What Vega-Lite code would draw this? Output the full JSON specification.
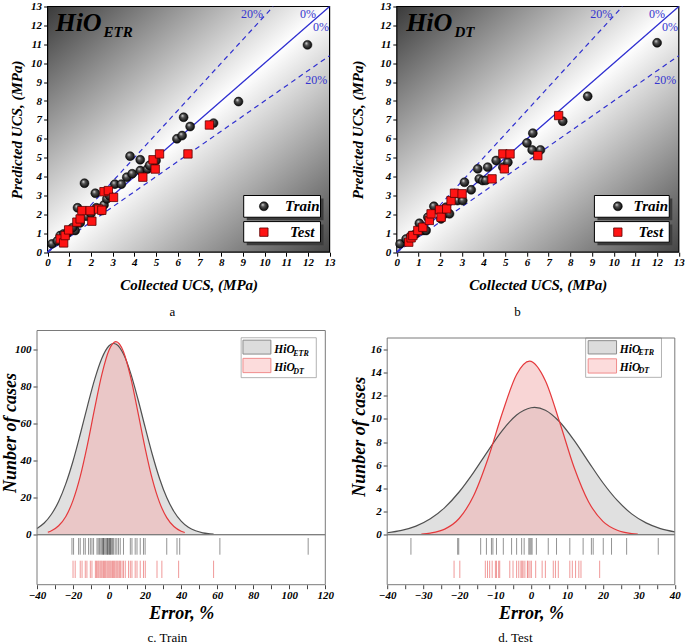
{
  "$schema": "https://vega.github.io/schema/vega-lite/v6.json",
  "background": "white",
  "padding": {"left": 1, "top": 0.5, "right": 0, "bottom": 0},
  "config": {
    "font": "Liberation Serif",
    "view": {"stroke": null},
    "axis": {
      "grid": false,
      "labelFont": "Liberation Serif",
      "labelFontWeight": "bold",
      "labelFontStyle": "italic",
      "labelFontSize": 11,
      "labelColor": "#000",
      "labelFlush": false,
      "labelOverlap": false,
      "titleFont": "Liberation Serif",
      "titleFontWeight": "bold",
      "titleFontStyle": "italic",
      "titleColor": "#000",
      "tickColor": "#000",
      "domainColor": "#000",
      "tickSize": 4
    },
    "title": {"font": "Liberation Serif", "fontSize": 13, "fontWeight": "normal", "color": "#000"}
  },
  "datasets": {
    "guides": [
      {"g": "0", "x": 0, "y": 0}, {"g": "0", "x": 13, "y": 13},
      {"g": "+20", "x": 0, "y": 0}, {"g": "+20", "x": 10.4, "y": 13},
      {"g": "-20", "x": 0, "y": 0}, {"g": "-20", "x": 13, "y": 10.4}
    ],
    "pct": [
      {"x": 9.42, "y": 12.6, "t": "20%"},
      {"x": 12.0, "y": 12.6, "t": "0%"},
      {"x": 12.6, "y": 11.9, "t": "0%"},
      {"x": 12.38, "y": 9.1, "t": "20%"}
    ],
    "tags": [
      {"model": "ETR", "part": "main", "x": 0.36, "y": 11.7, "t": "HiO"},
      {"model": "ETR", "part": "sub", "x": 2.58, "y": 11.38, "t": "ETR"},
      {"model": "DT", "part": "main", "x": 0.43, "y": 11.7, "t": "HiO"},
      {"model": "DT", "part": "sub", "x": 2.66, "y": 11.38, "t": "DT"}
    ],
    "keys": [
      {"panel": "c", "part": "main", "x": 91.7, "y": 97.7, "t": "HiO"},
      {"panel": "c", "part": "sub", "x": 102.2, "y": 96.5, "t": "ETR"},
      {"panel": "c", "part": "main", "x": 91.7, "y": 88.2, "t": "HiO"},
      {"panel": "c", "part": "sub", "x": 102.2, "y": 86.6, "t": "DT"},
      {"panel": "d", "part": "main", "x": 24.7, "y": 15.7, "t": "HiO"},
      {"panel": "d", "part": "sub", "x": 29.9, "y": 15.56, "t": "ETR"},
      {"panel": "d", "part": "main", "x": 24.7, "y": 14.17, "t": "HiO"},
      {"panel": "d", "part": "sub", "x": 29.9, "y": 13.97, "t": "DT"}
    ],
    "ucs": [
      {"model": "ETR", "set": "Train", "collected": 0.2, "predicted": 0.44},
      {"model": "ETR", "set": "Train", "collected": 0.45, "predicted": 0.6},
      {"model": "ETR", "set": "Train", "collected": 0.58, "predicted": 0.88},
      {"model": "ETR", "set": "Train", "collected": 0.74, "predicted": 0.97},
      {"model": "ETR", "set": "Train", "collected": 0.9, "predicted": 1.0},
      {"model": "ETR", "set": "Train", "collected": 1.04, "predicted": 1.15},
      {"model": "ETR", "set": "Train", "collected": 1.27, "predicted": 1.15},
      {"model": "ETR", "set": "Train", "collected": 1.15, "predicted": 1.3},
      {"model": "ETR", "set": "Train", "collected": 1.38, "predicted": 2.35},
      {"model": "ETR", "set": "Train", "collected": 1.5, "predicted": 1.55},
      {"model": "ETR", "set": "Train", "collected": 1.7, "predicted": 3.65},
      {"model": "ETR", "set": "Train", "collected": 1.8, "predicted": 1.9},
      {"model": "ETR", "set": "Train", "collected": 2.0, "predicted": 2.05},
      {"model": "ETR", "set": "Train", "collected": 2.2, "predicted": 3.12},
      {"model": "ETR", "set": "Train", "collected": 2.25, "predicted": 2.35},
      {"model": "ETR", "set": "Train", "collected": 2.5, "predicted": 2.2},
      {"model": "ETR", "set": "Train", "collected": 2.6, "predicted": 2.5},
      {"model": "ETR", "set": "Train", "collected": 2.73, "predicted": 2.82},
      {"model": "ETR", "set": "Train", "collected": 2.85, "predicted": 3.0},
      {"model": "ETR", "set": "Train", "collected": 3.1, "predicted": 3.6},
      {"model": "ETR", "set": "Train", "collected": 3.4, "predicted": 3.6},
      {"model": "ETR", "set": "Train", "collected": 3.65, "predicted": 3.97},
      {"model": "ETR", "set": "Train", "collected": 3.8, "predicted": 5.08},
      {"model": "ETR", "set": "Train", "collected": 3.9, "predicted": 4.15},
      {"model": "ETR", "set": "Train", "collected": 4.27, "predicted": 4.89},
      {"model": "ETR", "set": "Train", "collected": 4.27, "predicted": 4.32},
      {"model": "ETR", "set": "Train", "collected": 4.6, "predicted": 4.4},
      {"model": "ETR", "set": "Train", "collected": 4.7, "predicted": 4.6},
      {"model": "ETR", "set": "Train", "collected": 5.0, "predicted": 4.85},
      {"model": "ETR", "set": "Train", "collected": 5.96, "predicted": 6.0},
      {"model": "ETR", "set": "Train", "collected": 6.2, "predicted": 6.17},
      {"model": "ETR", "set": "Train", "collected": 6.27, "predicted": 7.14},
      {"model": "ETR", "set": "Train", "collected": 6.57, "predicted": 6.65},
      {"model": "ETR", "set": "Train", "collected": 7.65, "predicted": 6.83},
      {"model": "ETR", "set": "Train", "collected": 8.8, "predicted": 7.97},
      {"model": "ETR", "set": "Train", "collected": 11.98, "predicted": 10.97},
      {"model": "ETR", "set": "Test", "collected": 0.58, "predicted": 0.7},
      {"model": "ETR", "set": "Test", "collected": 0.74, "predicted": 0.49},
      {"model": "ETR", "set": "Test", "collected": 0.81, "predicted": 0.88},
      {"model": "ETR", "set": "Test", "collected": 0.97, "predicted": 1.18},
      {"model": "ETR", "set": "Test", "collected": 1.35, "predicted": 1.59},
      {"model": "ETR", "set": "Test", "collected": 1.5, "predicted": 1.76},
      {"model": "ETR", "set": "Test", "collected": 1.58, "predicted": 2.2},
      {"model": "ETR", "set": "Test", "collected": 1.96, "predicted": 2.2},
      {"model": "ETR", "set": "Test", "collected": 2.04, "predicted": 1.64},
      {"model": "ETR", "set": "Test", "collected": 2.35, "predicted": 2.28},
      {"model": "ETR", "set": "Test", "collected": 2.5, "predicted": 2.22},
      {"model": "ETR", "set": "Test", "collected": 2.6, "predicted": 3.2},
      {"model": "ETR", "set": "Test", "collected": 2.8, "predicted": 3.26},
      {"model": "ETR", "set": "Test", "collected": 3.04, "predicted": 2.9},
      {"model": "ETR", "set": "Test", "collected": 4.39, "predicted": 3.97},
      {"model": "ETR", "set": "Test", "collected": 4.86, "predicted": 4.89},
      {"model": "ETR", "set": "Test", "collected": 4.96, "predicted": 4.4},
      {"model": "ETR", "set": "Test", "collected": 5.16, "predicted": 5.2},
      {"model": "ETR", "set": "Test", "collected": 6.47, "predicted": 5.2},
      {"model": "ETR", "set": "Test", "collected": 7.46, "predicted": 6.73},
      {"model": "DT", "set": "Train", "collected": 0.15, "predicted": 0.44},
      {"model": "DT", "set": "Train", "collected": 0.43, "predicted": 0.7},
      {"model": "DT", "set": "Train", "collected": 0.66, "predicted": 0.88},
      {"model": "DT", "set": "Train", "collected": 0.85, "predicted": 0.95},
      {"model": "DT", "set": "Train", "collected": 1.04, "predicted": 1.53},
      {"model": "DT", "set": "Train", "collected": 1.2, "predicted": 1.15},
      {"model": "DT", "set": "Train", "collected": 1.35, "predicted": 1.15},
      {"model": "DT", "set": "Train", "collected": 1.43, "predicted": 1.85},
      {"model": "DT", "set": "Train", "collected": 1.71, "predicted": 2.43},
      {"model": "DT", "set": "Train", "collected": 2.04, "predicted": 1.76},
      {"model": "DT", "set": "Train", "collected": 2.2, "predicted": 2.03},
      {"model": "DT", "set": "Train", "collected": 2.27, "predicted": 2.38},
      {"model": "DT", "set": "Train", "collected": 2.43, "predicted": 2.03},
      {"model": "DT", "set": "Train", "collected": 2.8, "predicted": 2.73},
      {"model": "DT", "set": "Train", "collected": 3.04, "predicted": 2.73},
      {"model": "DT", "set": "Train", "collected": 3.12, "predicted": 3.7},
      {"model": "DT", "set": "Train", "collected": 3.43, "predicted": 3.3},
      {"model": "DT", "set": "Train", "collected": 3.73, "predicted": 4.41},
      {"model": "DT", "set": "Train", "collected": 3.8, "predicted": 3.88},
      {"model": "DT", "set": "Train", "collected": 3.96, "predicted": 3.79},
      {"model": "DT", "set": "Train", "collected": 4.1, "predicted": 3.8},
      {"model": "DT", "set": "Train", "collected": 4.19, "predicted": 4.5},
      {"model": "DT", "set": "Train", "collected": 4.58, "predicted": 4.85},
      {"model": "DT", "set": "Train", "collected": 4.89, "predicted": 4.5},
      {"model": "DT", "set": "Train", "collected": 5.12, "predicted": 4.76},
      {"model": "DT", "set": "Train", "collected": 6.0, "predicted": 5.78},
      {"model": "DT", "set": "Train", "collected": 6.27, "predicted": 6.3},
      {"model": "DT", "set": "Train", "collected": 6.24, "predicted": 5.41},
      {"model": "DT", "set": "Train", "collected": 6.62, "predicted": 5.41},
      {"model": "DT", "set": "Train", "collected": 7.65, "predicted": 6.93},
      {"model": "DT", "set": "Train", "collected": 8.8, "predicted": 8.25},
      {"model": "DT", "set": "Train", "collected": 12.0, "predicted": 11.08},
      {"model": "DT", "set": "Test", "collected": 0.55, "predicted": 0.53},
      {"model": "DT", "set": "Test", "collected": 0.66, "predicted": 0.76},
      {"model": "DT", "set": "Test", "collected": 0.74, "predicted": 0.88},
      {"model": "DT", "set": "Test", "collected": 0.97, "predicted": 1.15},
      {"model": "DT", "set": "Test", "collected": 1.2, "predicted": 1.32},
      {"model": "DT", "set": "Test", "collected": 1.5, "predicted": 1.68},
      {"model": "DT", "set": "Test", "collected": 1.58, "predicted": 2.03},
      {"model": "DT", "set": "Test", "collected": 1.97, "predicted": 2.24},
      {"model": "DT", "set": "Test", "collected": 2.04, "predicted": 1.85},
      {"model": "DT", "set": "Test", "collected": 2.3, "predicted": 2.29},
      {"model": "DT", "set": "Test", "collected": 2.5, "predicted": 2.73},
      {"model": "DT", "set": "Test", "collected": 2.66, "predicted": 3.12},
      {"model": "DT", "set": "Test", "collected": 3.01, "predicted": 3.09},
      {"model": "DT", "set": "Test", "collected": 4.39, "predicted": 3.88},
      {"model": "DT", "set": "Test", "collected": 4.89, "predicted": 5.2},
      {"model": "DT", "set": "Test", "collected": 4.96, "predicted": 4.41},
      {"model": "DT", "set": "Test", "collected": 5.22, "predicted": 5.2},
      {"model": "DT", "set": "Test", "collected": 6.5, "predicted": 5.11},
      {"model": "DT", "set": "Test", "collected": 7.46, "predicted": 7.23}
    ],
    "curves": [
      {"panel": "c", "model": "ETR", "x": -40, "y": 3.4}, {"panel": "c", "model": "ETR", "x": -36, "y": 6.3},
      {"panel": "c", "model": "ETR", "x": -32, "y": 11.0}, {"panel": "c", "model": "ETR", "x": -28, "y": 17.9},
      {"panel": "c", "model": "ETR", "x": -24, "y": 27.5}, {"panel": "c", "model": "ETR", "x": -20, "y": 39.7},
      {"panel": "c", "model": "ETR", "x": -16, "y": 54.1}, {"panel": "c", "model": "ETR", "x": -12, "y": 69.3},
      {"panel": "c", "model": "ETR", "x": -8, "y": 83.7}, {"panel": "c", "model": "ETR", "x": -4, "y": 95.1},
      {"panel": "c", "model": "ETR", "x": 0, "y": 101.8}, {"panel": "c", "model": "ETR", "x": 2.5, "y": 103},
      {"panel": "c", "model": "ETR", "x": 4, "y": 102.6}, {"panel": "c", "model": "ETR", "x": 8, "y": 97.3},
      {"panel": "c", "model": "ETR", "x": 12, "y": 86.9}, {"panel": "c", "model": "ETR", "x": 16, "y": 73.1},
      {"panel": "c", "model": "ETR", "x": 20, "y": 57.9}, {"panel": "c", "model": "ETR", "x": 24, "y": 43.2},
      {"panel": "c", "model": "ETR", "x": 28, "y": 30.3}, {"panel": "c", "model": "ETR", "x": 32, "y": 20.0},
      {"panel": "c", "model": "ETR", "x": 36, "y": 12.5}, {"panel": "c", "model": "ETR", "x": 40, "y": 7.3},
      {"panel": "c", "model": "ETR", "x": 44, "y": 4.0}, {"panel": "c", "model": "ETR", "x": 48, "y": 2.1},
      {"panel": "c", "model": "ETR", "x": 52, "y": 1.0}, {"panel": "c", "model": "ETR", "x": 56, "y": 0.5},
      {"panel": "c", "model": "ETR", "x": 58, "y": 0.3},
      {"panel": "c", "model": "DT", "x": -34, "y": 1.3}, {"panel": "c", "model": "DT", "x": -32, "y": 2.1},
      {"panel": "c", "model": "DT", "x": -28, "y": 4.8}, {"panel": "c", "model": "DT", "x": -24, "y": 9.8},
      {"panel": "c", "model": "DT", "x": -20, "y": 18.5}, {"panel": "c", "model": "DT", "x": -16, "y": 31.4},
      {"panel": "c", "model": "DT", "x": -12, "y": 48.5}, {"panel": "c", "model": "DT", "x": -8, "y": 68.0},
      {"panel": "c", "model": "DT", "x": -4, "y": 86.4}, {"panel": "c", "model": "DT", "x": 0, "y": 99.5},
      {"panel": "c", "model": "DT", "x": 3.8, "y": 104}, {"panel": "c", "model": "DT", "x": 8, "y": 98.6},
      {"panel": "c", "model": "DT", "x": 12, "y": 84.7}, {"panel": "c", "model": "DT", "x": 16, "y": 66.0},
      {"panel": "c", "model": "DT", "x": 20, "y": 46.7}, {"panel": "c", "model": "DT", "x": 24, "y": 29.9},
      {"panel": "c", "model": "DT", "x": 28, "y": 17.4}, {"panel": "c", "model": "DT", "x": 32, "y": 9.2},
      {"panel": "c", "model": "DT", "x": 36, "y": 4.4}, {"panel": "c", "model": "DT", "x": 40, "y": 1.9},
      {"panel": "c", "model": "DT", "x": 42, "y": 1.2},
      {"panel": "d", "model": "ETR", "x": -40, "y": 0.17}, {"panel": "d", "model": "ETR", "x": -36, "y": 0.37},
      {"panel": "d", "model": "ETR", "x": -32, "y": 0.74}, {"panel": "d", "model": "ETR", "x": -28, "y": 1.37},
      {"panel": "d", "model": "ETR", "x": -24, "y": 2.34}, {"panel": "d", "model": "ETR", "x": -20, "y": 3.69},
      {"panel": "d", "model": "ETR", "x": -16, "y": 5.37}, {"panel": "d", "model": "ETR", "x": -12, "y": 7.23},
      {"panel": "d", "model": "ETR", "x": -8, "y": 9.0}, {"panel": "d", "model": "ETR", "x": -4, "y": 10.34},
      {"panel": "d", "model": "ETR", "x": 0, "y": 10.97}, {"panel": "d", "model": "ETR", "x": 1, "y": 11.0},
      {"panel": "d", "model": "ETR", "x": 4, "y": 10.76}, {"panel": "d", "model": "ETR", "x": 8, "y": 9.74},
      {"panel": "d", "model": "ETR", "x": 12, "y": 8.15}, {"panel": "d", "model": "ETR", "x": 16, "y": 6.3},
      {"panel": "d", "model": "ETR", "x": 20, "y": 4.49}, {"panel": "d", "model": "ETR", "x": 24, "y": 2.96},
      {"panel": "d", "model": "ETR", "x": 28, "y": 1.8}, {"panel": "d", "model": "ETR", "x": 32, "y": 1.02},
      {"panel": "d", "model": "ETR", "x": 36, "y": 0.53}, {"panel": "d", "model": "ETR", "x": 40, "y": 0.25},
      {"panel": "d", "model": "DT", "x": -30.5, "y": 0.06}, {"panel": "d", "model": "DT", "x": -28, "y": 0.14},
      {"panel": "d", "model": "DT", "x": -24, "y": 0.48}, {"panel": "d", "model": "DT", "x": -20, "y": 1.4},
      {"panel": "d", "model": "DT", "x": -16, "y": 3.34}, {"panel": "d", "model": "DT", "x": -12, "y": 6.54},
      {"panel": "d", "model": "DT", "x": -8, "y": 10.5}, {"panel": "d", "model": "DT", "x": -4, "y": 13.85},
      {"panel": "d", "model": "DT", "x": -0.4, "y": 15.0}, {"panel": "d", "model": "DT", "x": 4, "y": 13.31},
      {"panel": "d", "model": "DT", "x": 8, "y": 9.7}, {"panel": "d", "model": "DT", "x": 12, "y": 5.81},
      {"panel": "d", "model": "DT", "x": 16, "y": 2.85}, {"panel": "d", "model": "DT", "x": 20, "y": 1.15},
      {"panel": "d", "model": "DT", "x": 24, "y": 0.38}, {"panel": "d", "model": "DT", "x": 28, "y": 0.1},
      {"panel": "d", "model": "DT", "x": 29.7, "y": 0.06}
    ],
    "rug": [
      {"panel": "c", "model": "ETR", "err": -20.6}, {"panel": "c", "model": "ETR", "err": -19.7}, {"panel": "c", "model": "ETR", "err": -16.9},
      {"panel": "c", "model": "ETR", "err": -16}, {"panel": "c", "model": "ETR", "err": -14.1}, {"panel": "c", "model": "ETR", "err": -13.2},
      {"panel": "c", "model": "ETR", "err": -11.4}, {"panel": "c", "model": "ETR", "err": -10.4}, {"panel": "c", "model": "ETR", "err": -9.5},
      {"panel": "c", "model": "ETR", "err": -8.6}, {"panel": "c", "model": "ETR", "err": -6.7}, {"panel": "c", "model": "ETR", "err": -6},
      {"panel": "c", "model": "ETR", "err": -5.3}, {"panel": "c", "model": "ETR", "err": -4.6}, {"panel": "c", "model": "ETR", "err": -4},
      {"panel": "c", "model": "ETR", "err": -3.5}, {"panel": "c", "model": "ETR", "err": -3.2}, {"panel": "c", "model": "ETR", "err": -3},
      {"panel": "c", "model": "ETR", "err": -2.4}, {"panel": "c", "model": "ETR", "err": -1.8}, {"panel": "c", "model": "ETR", "err": -1.2},
      {"panel": "c", "model": "ETR", "err": -1}, {"panel": "c", "model": "ETR", "err": -0.7}, {"panel": "c", "model": "ETR", "err": -0.2},
      {"panel": "c", "model": "ETR", "err": 0.3}, {"panel": "c", "model": "ETR", "err": 0.5}, {"panel": "c", "model": "ETR", "err": 0.8},
      {"panel": "c", "model": "ETR", "err": 1.3}, {"panel": "c", "model": "ETR", "err": 1.9}, {"panel": "c", "model": "ETR", "err": 2.5},
      {"panel": "c", "model": "ETR", "err": 3.4}, {"panel": "c", "model": "ETR", "err": 4.3}, {"panel": "c", "model": "ETR", "err": 5.2},
      {"panel": "c", "model": "ETR", "err": 6.2}, {"panel": "c", "model": "ETR", "err": 8}, {"panel": "c", "model": "ETR", "err": 11.8},
      {"panel": "c", "model": "ETR", "err": 12.7}, {"panel": "c", "model": "ETR", "err": 14.5}, {"panel": "c", "model": "ETR", "err": 15.5},
      {"panel": "c", "model": "ETR", "err": 17.3}, {"panel": "c", "model": "ETR", "err": 19.1}, {"panel": "c", "model": "ETR", "err": 20},
      {"panel": "c", "model": "ETR", "err": 32}, {"panel": "c", "model": "ETR", "err": 37.7}, {"panel": "c", "model": "ETR", "err": 39.2},
      {"panel": "c", "model": "ETR", "err": 61.5}, {"panel": "c", "model": "ETR", "err": 110.5},
      {"panel": "c", "model": "DT", "err": -20}, {"panel": "c", "model": "DT", "err": -18.8}, {"panel": "c", "model": "DT", "err": -16},
      {"panel": "c", "model": "DT", "err": -15}, {"panel": "c", "model": "DT", "err": -13.2}, {"panel": "c", "model": "DT", "err": -12.3},
      {"panel": "c", "model": "DT", "err": -10.4}, {"panel": "c", "model": "DT", "err": -9.5}, {"panel": "c", "model": "DT", "err": -7.6},
      {"panel": "c", "model": "DT", "err": -7}, {"panel": "c", "model": "DT", "err": -6.3}, {"panel": "c", "model": "DT", "err": -5.7},
      {"panel": "c", "model": "DT", "err": -5}, {"panel": "c", "model": "DT", "err": -4.4}, {"panel": "c", "model": "DT", "err": -3.8},
      {"panel": "c", "model": "DT", "err": -3.1}, {"panel": "c", "model": "DT", "err": -2.5}, {"panel": "c", "model": "DT", "err": -1.9},
      {"panel": "c", "model": "DT", "err": -1.2}, {"panel": "c", "model": "DT", "err": -0.6}, {"panel": "c", "model": "DT", "err": 0},
      {"panel": "c", "model": "DT", "err": 0.6}, {"panel": "c", "model": "DT", "err": 1.2}, {"panel": "c", "model": "DT", "err": 1.9},
      {"panel": "c", "model": "DT", "err": 2.5}, {"panel": "c", "model": "DT", "err": 3.1}, {"panel": "c", "model": "DT", "err": 3.8},
      {"panel": "c", "model": "DT", "err": 4.4}, {"panel": "c", "model": "DT", "err": 5}, {"panel": "c", "model": "DT", "err": 5.7},
      {"panel": "c", "model": "DT", "err": 6.3}, {"panel": "c", "model": "DT", "err": 7.2}, {"panel": "c", "model": "DT", "err": 8},
      {"panel": "c", "model": "DT", "err": 9}, {"panel": "c", "model": "DT", "err": 10.8}, {"panel": "c", "model": "DT", "err": 11.8},
      {"panel": "c", "model": "DT", "err": 12.7}, {"panel": "c", "model": "DT", "err": 14.5}, {"panel": "c", "model": "DT", "err": 15.5},
      {"panel": "c", "model": "DT", "err": 17.3}, {"panel": "c", "model": "DT", "err": 19.1}, {"panel": "c", "model": "DT", "err": 20.1},
      {"panel": "c", "model": "DT", "err": 26.6}, {"panel": "c", "model": "DT", "err": 29.3}, {"panel": "c", "model": "DT", "err": 38.6},
      {"panel": "c", "model": "DT", "err": 58},
      {"panel": "d", "model": "ETR", "err": -33.4}, {"panel": "d", "model": "ETR", "err": -20.4}, {"panel": "d", "model": "ETR", "err": -20.1},
      {"panel": "d", "model": "ETR", "err": -14}, {"panel": "d", "model": "ETR", "err": -12.4}, {"panel": "d", "model": "ETR", "err": -11},
      {"panel": "d", "model": "ETR", "err": -10.6}, {"panel": "d", "model": "ETR", "err": -9.6}, {"panel": "d", "model": "ETR", "err": -7.7},
      {"panel": "d", "model": "ETR", "err": -5.4}, {"panel": "d", "model": "ETR", "err": -4}, {"panel": "d", "model": "ETR", "err": -2.6},
      {"panel": "d", "model": "ETR", "err": -1.9}, {"panel": "d", "model": "ETR", "err": -0.6}, {"panel": "d", "model": "ETR", "err": -0.3},
      {"panel": "d", "model": "ETR", "err": 0}, {"panel": "d", "model": "ETR", "err": 0.3}, {"panel": "d", "model": "ETR", "err": 1.5},
      {"panel": "d", "model": "ETR", "err": 4.8}, {"panel": "d", "model": "ETR", "err": 7.1}, {"panel": "d", "model": "ETR", "err": 10.8},
      {"panel": "d", "model": "ETR", "err": 14.5}, {"panel": "d", "model": "ETR", "err": 16.8}, {"panel": "d", "model": "ETR", "err": 17.3},
      {"panel": "d", "model": "ETR", "err": 20.1}, {"panel": "d", "model": "ETR", "err": 22.4}, {"panel": "d", "model": "ETR", "err": 26.6},
      {"panel": "d", "model": "ETR", "err": 35.4},
      {"panel": "d", "model": "DT", "err": -21.4}, {"panel": "d", "model": "DT", "err": -19.8}, {"panel": "d", "model": "DT", "err": -12.7},
      {"panel": "d", "model": "DT", "err": -12.1}, {"panel": "d", "model": "DT", "err": -11.5}, {"panel": "d", "model": "DT", "err": -10.8},
      {"panel": "d", "model": "DT", "err": -9.9}, {"panel": "d", "model": "DT", "err": -9.6}, {"panel": "d", "model": "DT", "err": -9},
      {"panel": "d", "model": "DT", "err": -8.7}, {"panel": "d", "model": "DT", "err": -5.9}, {"panel": "d", "model": "DT", "err": -5},
      {"panel": "d", "model": "DT", "err": -4}, {"panel": "d", "model": "DT", "err": -3.4}, {"panel": "d", "model": "DT", "err": -2.8},
      {"panel": "d", "model": "DT", "err": -2.5}, {"panel": "d", "model": "DT", "err": -2.2}, {"panel": "d", "model": "DT", "err": -1.7},
      {"panel": "d", "model": "DT", "err": -1}, {"panel": "d", "model": "DT", "err": -0.8}, {"panel": "d", "model": "DT", "err": -0.3},
      {"panel": "d", "model": "DT", "err": 0.1}, {"panel": "d", "model": "DT", "err": 1.3}, {"panel": "d", "model": "DT", "err": 3.1},
      {"panel": "d", "model": "DT", "err": 4}, {"panel": "d", "model": "DT", "err": 6.2}, {"panel": "d", "model": "DT", "err": 6.8},
      {"panel": "d", "model": "DT", "err": 7.6}, {"panel": "d", "model": "DT", "err": 10.8}, {"panel": "d", "model": "DT", "err": 11.5},
      {"panel": "d", "model": "DT", "err": 12.4}, {"panel": "d", "model": "DT", "err": 13.3}, {"panel": "d", "model": "DT", "err": 13.9},
      {"panel": "d", "model": "DT", "err": 19.1}
    ]
  },
  "columns": 2,
  "align": {"row": "each", "column": "none"},
  "spacing": {"row": 10, "column": 14.2},
  "concat": [
    {
      "width": 292.6, "height": 245.7,
      "title": {"text": "a", "orient": "bottom", "anchor": "middle", "frame": "bounds", "offset": 14},
      "layer": [
        {
          "data": {"values": [{}]},
          "mark": {"type": "rect", "stroke": "#000", "strokeWidth": 1.2, "fill": {"gradient": "linear", "x1": 0, "y1": 0, "x2": 1, "y2": 1, "stops": [{"offset": 0, "color": "#3a3a3a"}, {"offset": 0.5, "color": "#ffffff"}, {"offset": 1, "color": "#454545"}]}},
          "encoding": {
            "x": {"datum": 0, "type": "quantitative", "scale": {"domain": [0, 13], "nice": false, "range": [10.6, 292.6]}, "axis": {"values": [0,1,2,3,4,5,6,7,8,9,10,11,12,13], "labelOverlap": false, "title": "Collected UCS, (MPa)", "titleFontSize": 15, "titlePadding": 10, "labelPadding": 0, "domain": false}},
            "x2": {"datum": 13},
            "y": {"datum": 0, "type": "quantitative", "scale": {"domain": [0, 13], "nice": false}, "axis": {"values": [0,1,2,3,4,5,6,7,8,9,10,11,12,13], "labelOverlap": false, "title": "Predicted UCS, (MPa)", "titleFontSize": 15, "titlePadding": 5.8, "labelPadding": 2, "offset": -10.6, "domain": false}},
            "y2": {"datum": 13}
          }
        },
        {
          "data": {"name": "guides"},
          "transform": [{"filter": "datum.g === '0'"}],
          "mark": {"type": "line", "color": "#2f2fd0", "strokeWidth": 1.3},
          "encoding": {
            "x": {"field": "x", "type": "quantitative", "axis": {"values": [0,1,2,3,4,5,6,7,8,9,10,11,12,13], "labelOverlap": false, "title": "Collected UCS, (MPa)", "titleFontSize": 15, "titlePadding": 10, "labelPadding": 0, "domain": false}},
            "y": {"field": "y", "type": "quantitative", "axis": {"values": [0,1,2,3,4,5,6,7,8,9,10,11,12,13], "labelOverlap": false, "title": "Predicted UCS, (MPa)", "titleFontSize": 15, "titlePadding": 5.8, "labelPadding": 2, "offset": -10.6, "domain": false}}
          }
        },
        {
          "data": {"name": "guides"},
          "transform": [{"filter": "datum.g !== '0'"}],
          "mark": {"type": "line", "color": "#2f2fd0", "strokeWidth": 1.2, "strokeDash": [5, 4]},
          "encoding": {
            "x": {"field": "x", "type": "quantitative", "axis": {"values": [0,1,2,3,4,5,6,7,8,9,10,11,12,13], "labelOverlap": false, "title": "Collected UCS, (MPa)", "titleFontSize": 15, "titlePadding": 10, "labelPadding": 0, "domain": false}},
            "y": {"field": "y", "type": "quantitative", "axis": {"values": [0,1,2,3,4,5,6,7,8,9,10,11,12,13], "labelOverlap": false, "title": "Predicted UCS, (MPa)", "titleFontSize": 15, "titlePadding": 5.8, "labelPadding": 2, "offset": -10.6, "domain": false}},
            "detail": {"field": "g"}
          }
        },
        {
          "data": {"name": "pct"},
          "mark": {"type": "text", "font": "Liberation Serif", "fontSize": 12, "color": "#3535d0"},
          "encoding": {
            "x": {"field": "x", "type": "quantitative", "axis": {"values": [0,1,2,3,4,5,6,7,8,9,10,11,12,13], "labelOverlap": false, "title": "Collected UCS, (MPa)", "titleFontSize": 15, "titlePadding": 10, "labelPadding": 0, "domain": false}},
            "y": {"field": "y", "type": "quantitative", "axis": {"values": [0,1,2,3,4,5,6,7,8,9,10,11,12,13], "labelOverlap": false, "title": "Predicted UCS, (MPa)", "titleFontSize": 15, "titlePadding": 5.8, "labelPadding": 2, "offset": -10.6, "domain": false}},
            "text": {"field": "t"}
          }
        },
        {
          "data": {"name": "ucs"},
          "transform": [{"filter": "datum.model === 'ETR' && datum.set === 'Train'"}],
          "mark": {"type": "point", "shape": "circle", "filled": true, "size": 80, "opacity": 1, "stroke": "#000", "strokeWidth": 0.5, "fill": {"gradient": "radial", "x1": 0.35, "y1": 0.3, "r1": 0, "x2": 0.5, "y2": 0.5, "r2": 0.55, "stops": [{"offset": 0, "color": "#f0f0f0"}, {"offset": 0.35, "color": "#555555"}, {"offset": 1, "color": "#000000"}]}},
          "encoding": {
            "x": {"field": "collected", "type": "quantitative", "axis": {"values": [0,1,2,3,4,5,6,7,8,9,10,11,12,13], "labelOverlap": false, "title": "Collected UCS, (MPa)", "titleFontSize": 15, "titlePadding": 10, "labelPadding": 0, "domain": false}},
            "y": {"field": "predicted", "type": "quantitative", "axis": {"values": [0,1,2,3,4,5,6,7,8,9,10,11,12,13], "labelOverlap": false, "title": "Predicted UCS, (MPa)", "titleFontSize": 15, "titlePadding": 5.8, "labelPadding": 2, "offset": -10.6, "domain": false}}
          }
        },
        {
          "data": {"name": "ucs"},
          "transform": [{"filter": "datum.model === 'ETR' && datum.set === 'Test'"}],
          "mark": {"type": "point", "shape": "square", "filled": true, "size": 70, "opacity": 1, "fill": "#ff1414", "stroke": "#5a0000", "strokeWidth": 0.8},
          "encoding": {
            "x": {"field": "collected", "type": "quantitative", "axis": {"values": [0,1,2,3,4,5,6,7,8,9,10,11,12,13], "labelOverlap": false, "title": "Collected UCS, (MPa)", "titleFontSize": 15, "titlePadding": 10, "labelPadding": 0, "domain": false}},
            "y": {"field": "predicted", "type": "quantitative", "axis": {"values": [0,1,2,3,4,5,6,7,8,9,10,11,12,13], "labelOverlap": false, "title": "Predicted UCS, (MPa)", "titleFontSize": 15, "titlePadding": 5.8, "labelPadding": 2, "offset": -10.6, "domain": false}}
          }
        },
        {
          "data": {"name": "tags"},
          "transform": [{"filter": "datum.model === 'ETR' && datum.part === 'main'"}],
          "mark": {"type": "text", "font": "Liberation Serif", "fontSize": 26, "fontWeight": "bold", "fontStyle": "italic", "align": "left", "baseline": "alphabetic", "color": "#000"},
          "encoding": {
            "x": {"field": "x", "type": "quantitative", "axis": {"values": [0,1,2,3,4,5,6,7,8,9,10,11,12,13], "labelOverlap": false, "title": "Collected UCS, (MPa)", "titleFontSize": 15, "titlePadding": 10, "labelPadding": 0, "domain": false}},
            "y": {"field": "y", "type": "quantitative", "axis": {"values": [0,1,2,3,4,5,6,7,8,9,10,11,12,13], "labelOverlap": false, "title": "Predicted UCS, (MPa)", "titleFontSize": 15, "titlePadding": 5.8, "labelPadding": 2, "offset": -10.6, "domain": false}},
            "text": {"field": "t"}
          }
        },
        {
          "data": {"name": "tags"},
          "transform": [{"filter": "datum.model === 'ETR' && datum.part === 'sub'"}],
          "mark": {"type": "text", "font": "Liberation Serif", "fontSize": 15, "fontWeight": "bold", "fontStyle": "italic", "align": "left", "baseline": "alphabetic", "color": "#000"},
          "encoding": {
            "x": {"field": "x", "type": "quantitative", "axis": {"values": [0,1,2,3,4,5,6,7,8,9,10,11,12,13], "labelOverlap": false, "title": "Collected UCS, (MPa)", "titleFontSize": 15, "titlePadding": 10, "labelPadding": 0, "domain": false}},
            "y": {"field": "y", "type": "quantitative", "axis": {"values": [0,1,2,3,4,5,6,7,8,9,10,11,12,13], "labelOverlap": false, "title": "Predicted UCS, (MPa)", "titleFontSize": 15, "titlePadding": 5.8, "labelPadding": 2, "offset": -10.6, "domain": false}},
            "text": {"field": "t"}
          }
        },
        {
          "data": {"values": [{}]},
          "mark": {"type": "rect", "color": "#3c3c3c"},
          "encoding": {
            "x": {"datum": 9.18, "axis": {"values": [0,1,2,3,4,5,6,7,8,9,10,11,12,13], "labelOverlap": false, "title": "Collected UCS, (MPa)", "titleFontSize": 15, "titlePadding": 10, "labelPadding": 0, "domain": false}}, "x2": {"datum": 12.72},
            "y": {"datum": 1.69, "axis": {"values": [0,1,2,3,4,5,6,7,8,9,10,11,12,13], "labelOverlap": false, "title": "Predicted UCS, (MPa)", "titleFontSize": 15, "titlePadding": 5.8, "labelPadding": 2, "offset": -10.6, "domain": false}}, "y2": {"datum": 2.84}
          }
        },
        {
          "data": {"values": [{}]},
          "mark": {"type": "rect", "color": "#3c3c3c"},
          "encoding": {
            "x": {"datum": 9.18, "axis": {"values": [0,1,2,3,4,5,6,7,8,9,10,11,12,13], "labelOverlap": false, "title": "Collected UCS, (MPa)", "titleFontSize": 15, "titlePadding": 10, "labelPadding": 0, "domain": false}}, "x2": {"datum": 12.72},
            "y": {"datum": 0.37, "axis": {"values": [0,1,2,3,4,5,6,7,8,9,10,11,12,13], "labelOverlap": false, "title": "Predicted UCS, (MPa)", "titleFontSize": 15, "titlePadding": 5.8, "labelPadding": 2, "offset": -10.6, "domain": false}}, "y2": {"datum": 1.46}
          }
        },
        {
          "data": {"values": [{}]},
          "mark": {"type": "rect", "fill": "#ffffff", "stroke": "#000", "strokeWidth": 1},
          "encoding": {
            "x": {"datum": 9.04, "axis": {"values": [0,1,2,3,4,5,6,7,8,9,10,11,12,13], "labelOverlap": false, "title": "Collected UCS, (MPa)", "titleFontSize": 15, "titlePadding": 10, "labelPadding": 0, "domain": false}}, "x2": {"datum": 12.58},
            "y": {"datum": 1.85, "axis": {"values": [0,1,2,3,4,5,6,7,8,9,10,11,12,13], "labelOverlap": false, "title": "Predicted UCS, (MPa)", "titleFontSize": 15, "titlePadding": 5.8, "labelPadding": 2, "offset": -10.6, "domain": false}}, "y2": {"datum": 3.0}
          }
        },
        {
          "data": {"values": [{}]},
          "mark": {"type": "rect", "fill": "#ffffff", "stroke": "#000", "strokeWidth": 1},
          "encoding": {
            "x": {"datum": 9.04, "axis": {"values": [0,1,2,3,4,5,6,7,8,9,10,11,12,13], "labelOverlap": false, "title": "Collected UCS, (MPa)", "titleFontSize": 15, "titlePadding": 10, "labelPadding": 0, "domain": false}}, "x2": {"datum": 12.58},
            "y": {"datum": 0.53, "axis": {"values": [0,1,2,3,4,5,6,7,8,9,10,11,12,13], "labelOverlap": false, "title": "Predicted UCS, (MPa)", "titleFontSize": 15, "titlePadding": 5.8, "labelPadding": 2, "offset": -10.6, "domain": false}}, "y2": {"datum": 1.62}
          }
        },
        {
          "data": {"values": [{}]},
          "mark": {"type": "point", "shape": "circle", "filled": true, "size": 80, "opacity": 1, "stroke": "#000", "strokeWidth": 0.5, "fill": {"gradient": "radial", "x1": 0.35, "y1": 0.3, "r1": 0, "x2": 0.5, "y2": 0.5, "r2": 0.55, "stops": [{"offset": 0, "color": "#f0f0f0"}, {"offset": 0.35, "color": "#555555"}, {"offset": 1, "color": "#000000"}]}},
          "encoding": {
            "x": {"datum": 9.97, "axis": {"values": [0,1,2,3,4,5,6,7,8,9,10,11,12,13], "labelOverlap": false, "title": "Collected UCS, (MPa)", "titleFontSize": 15, "titlePadding": 10, "labelPadding": 0, "domain": false}},
            "y": {"datum": 2.43, "axis": {"values": [0,1,2,3,4,5,6,7,8,9,10,11,12,13], "labelOverlap": false, "title": "Predicted UCS, (MPa)", "titleFontSize": 15, "titlePadding": 5.8, "labelPadding": 2, "offset": -10.6, "domain": false}}
          }
        },
        {
          "data": {"values": [{}]},
          "mark": {"type": "point", "shape": "square", "filled": true, "size": 70, "opacity": 1, "fill": "#ff1414", "stroke": "#5a0000", "strokeWidth": 0.8},
          "encoding": {
            "x": {"datum": 9.97, "axis": {"values": [0,1,2,3,4,5,6,7,8,9,10,11,12,13], "labelOverlap": false, "title": "Collected UCS, (MPa)", "titleFontSize": 15, "titlePadding": 10, "labelPadding": 0, "domain": false}},
            "y": {"datum": 1.06, "axis": {"values": [0,1,2,3,4,5,6,7,8,9,10,11,12,13], "labelOverlap": false, "title": "Predicted UCS, (MPa)", "titleFontSize": 15, "titlePadding": 5.8, "labelPadding": 2, "offset": -10.6, "domain": false}}
          }
        },
        {
          "data": {"values": [{}]},
          "mark": {"type": "text", "text": "Train", "font": "Liberation Serif", "fontSize": 15, "fontWeight": "bold", "fontStyle": "italic", "align": "center", "baseline": "middle", "color": "#000"},
          "encoding": {
            "x": {"datum": 11.74, "axis": {"values": [0,1,2,3,4,5,6,7,8,9,10,11,12,13], "labelOverlap": false, "title": "Collected UCS, (MPa)", "titleFontSize": 15, "titlePadding": 10, "labelPadding": 0, "domain": false}},
            "y": {"datum": 2.43, "axis": {"values": [0,1,2,3,4,5,6,7,8,9,10,11,12,13], "labelOverlap": false, "title": "Predicted UCS, (MPa)", "titleFontSize": 15, "titlePadding": 5.8, "labelPadding": 2, "offset": -10.6, "domain": false}}
          }
        },
        {
          "data": {"values": [{}]},
          "mark": {"type": "text", "text": "Test", "font": "Liberation Serif", "fontSize": 15, "fontWeight": "bold", "fontStyle": "italic", "align": "center", "baseline": "middle", "color": "#000"},
          "encoding": {
            "x": {"datum": 11.74, "axis": {"values": [0,1,2,3,4,5,6,7,8,9,10,11,12,13], "labelOverlap": false, "title": "Collected UCS, (MPa)", "titleFontSize": 15, "titlePadding": 10, "labelPadding": 0, "domain": false}},
            "y": {"datum": 1.06, "axis": {"values": [0,1,2,3,4,5,6,7,8,9,10,11,12,13], "labelOverlap": false, "title": "Predicted UCS, (MPa)", "titleFontSize": 15, "titlePadding": 5.8, "labelPadding": 2, "offset": -10.6, "domain": false}}
          }
        }
      ]
    },
    {
      "width": 293.6, "height": 245.7,
      "title": {"text": "b", "orient": "bottom", "anchor": "middle", "frame": "bounds", "offset": 14},
      "layer": [
        {
          "data": {"values": [{}]},
          "mark": {"type": "rect", "stroke": "#000", "strokeWidth": 1.2, "fill": {"gradient": "linear", "x1": 0, "y1": 0, "x2": 1, "y2": 1, "stops": [{"offset": 0, "color": "#3a3a3a"}, {"offset": 0.5, "color": "#ffffff"}, {"offset": 1, "color": "#454545"}]}},
          "encoding": {
            "x": {"datum": 0, "type": "quantitative", "scale": {"domain": [0, 13], "nice": false, "range": [11.6, 293.6]}, "axis": {"values": [0,1,2,3,4,5,6,7,8,9,10,11,12,13], "labelOverlap": false, "title": "Collected UCS, (MPa)", "titleFontSize": 15, "titlePadding": 10, "labelPadding": 0, "domain": false}},
            "x2": {"datum": 13},
            "y": {"datum": 0, "type": "quantitative", "scale": {"domain": [0, 13], "nice": false}, "axis": {"values": [0,1,2,3,4,5,6,7,8,9,10,11,12,13], "labelOverlap": false, "title": "Predicted UCS, (MPa)", "titleFontSize": 15, "titlePadding": 14.1, "labelPadding": 2, "offset": -11.6, "domain": false}},
            "y2": {"datum": 13}
          }
        },
        {
          "data": {"name": "guides"},
          "transform": [{"filter": "datum.g === '0'"}],
          "mark": {"type": "line", "color": "#2f2fd0", "strokeWidth": 1.3},
          "encoding": {
            "x": {"field": "x", "type": "quantitative", "axis": {"values": [0,1,2,3,4,5,6,7,8,9,10,11,12,13], "labelOverlap": false, "title": "Collected UCS, (MPa)", "titleFontSize": 15, "titlePadding": 10, "labelPadding": 0, "domain": false}},
            "y": {"field": "y", "type": "quantitative", "axis": {"values": [0,1,2,3,4,5,6,7,8,9,10,11,12,13], "labelOverlap": false, "title": "Predicted UCS, (MPa)", "titleFontSize": 15, "titlePadding": 14.1, "labelPadding": 2, "offset": -11.6, "domain": false}}
          }
        },
        {
          "data": {"name": "guides"},
          "transform": [{"filter": "datum.g !== '0'"}],
          "mark": {"type": "line", "color": "#2f2fd0", "strokeWidth": 1.2, "strokeDash": [5, 4]},
          "encoding": {
            "x": {"field": "x", "type": "quantitative", "axis": {"values": [0,1,2,3,4,5,6,7,8,9,10,11,12,13], "labelOverlap": false, "title": "Collected UCS, (MPa)", "titleFontSize": 15, "titlePadding": 10, "labelPadding": 0, "domain": false}},
            "y": {"field": "y", "type": "quantitative", "axis": {"values": [0,1,2,3,4,5,6,7,8,9,10,11,12,13], "labelOverlap": false, "title": "Predicted UCS, (MPa)", "titleFontSize": 15, "titlePadding": 14.1, "labelPadding": 2, "offset": -11.6, "domain": false}},
            "detail": {"field": "g"}
          }
        },
        {
          "data": {"name": "pct"},
          "mark": {"type": "text", "font": "Liberation Serif", "fontSize": 12, "color": "#3535d0"},
          "encoding": {
            "x": {"field": "x", "type": "quantitative", "axis": {"values": [0,1,2,3,4,5,6,7,8,9,10,11,12,13], "labelOverlap": false, "title": "Collected UCS, (MPa)", "titleFontSize": 15, "titlePadding": 10, "labelPadding": 0, "domain": false}},
            "y": {"field": "y", "type": "quantitative", "axis": {"values": [0,1,2,3,4,5,6,7,8,9,10,11,12,13], "labelOverlap": false, "title": "Predicted UCS, (MPa)", "titleFontSize": 15, "titlePadding": 14.1, "labelPadding": 2, "offset": -11.6, "domain": false}},
            "text": {"field": "t"}
          }
        },
        {
          "data": {"name": "ucs"},
          "transform": [{"filter": "datum.model === 'DT' && datum.set === 'Train'"}],
          "mark": {"type": "point", "shape": "circle", "filled": true, "size": 80, "opacity": 1, "stroke": "#000", "strokeWidth": 0.5, "fill": {"gradient": "radial", "x1": 0.35, "y1": 0.3, "r1": 0, "x2": 0.5, "y2": 0.5, "r2": 0.55, "stops": [{"offset": 0, "color": "#f0f0f0"}, {"offset": 0.35, "color": "#555555"}, {"offset": 1, "color": "#000000"}]}},
          "encoding": {
            "x": {"field": "collected", "type": "quantitative", "axis": {"values": [0,1,2,3,4,5,6,7,8,9,10,11,12,13], "labelOverlap": false, "title": "Collected UCS, (MPa)", "titleFontSize": 15, "titlePadding": 10, "labelPadding": 0, "domain": false}},
            "y": {"field": "predicted", "type": "quantitative", "axis": {"values": [0,1,2,3,4,5,6,7,8,9,10,11,12,13], "labelOverlap": false, "title": "Predicted UCS, (MPa)", "titleFontSize": 15, "titlePadding": 14.1, "labelPadding": 2, "offset": -11.6, "domain": false}}
          }
        },
        {
          "data": {"name": "ucs"},
          "transform": [{"filter": "datum.model === 'DT' && datum.set === 'Test'"}],
          "mark": {"type": "point", "shape": "square", "filled": true, "size": 70, "opacity": 1, "fill": "#ff1414", "stroke": "#5a0000", "strokeWidth": 0.8},
          "encoding": {
            "x": {"field": "collected", "type": "quantitative", "axis": {"values": [0,1,2,3,4,5,6,7,8,9,10,11,12,13], "labelOverlap": false, "title": "Collected UCS, (MPa)", "titleFontSize": 15, "titlePadding": 10, "labelPadding": 0, "domain": false}},
            "y": {"field": "predicted", "type": "quantitative", "axis": {"values": [0,1,2,3,4,5,6,7,8,9,10,11,12,13], "labelOverlap": false, "title": "Predicted UCS, (MPa)", "titleFontSize": 15, "titlePadding": 14.1, "labelPadding": 2, "offset": -11.6, "domain": false}}
          }
        },
        {
          "data": {"name": "tags"},
          "transform": [{"filter": "datum.model === 'DT' && datum.part === 'main'"}],
          "mark": {"type": "text", "font": "Liberation Serif", "fontSize": 26, "fontWeight": "bold", "fontStyle": "italic", "align": "left", "baseline": "alphabetic", "color": "#000"},
          "encoding": {
            "x": {"field": "x", "type": "quantitative", "axis": {"values": [0,1,2,3,4,5,6,7,8,9,10,11,12,13], "labelOverlap": false, "title": "Collected UCS, (MPa)", "titleFontSize": 15, "titlePadding": 10, "labelPadding": 0, "domain": false}},
            "y": {"field": "y", "type": "quantitative", "axis": {"values": [0,1,2,3,4,5,6,7,8,9,10,11,12,13], "labelOverlap": false, "title": "Predicted UCS, (MPa)", "titleFontSize": 15, "titlePadding": 14.1, "labelPadding": 2, "offset": -11.6, "domain": false}},
            "text": {"field": "t"}
          }
        },
        {
          "data": {"name": "tags"},
          "transform": [{"filter": "datum.model === 'DT' && datum.part === 'sub'"}],
          "mark": {"type": "text", "font": "Liberation Serif", "fontSize": 15, "fontWeight": "bold", "fontStyle": "italic", "align": "left", "baseline": "alphabetic", "color": "#000"},
          "encoding": {
            "x": {"field": "x", "type": "quantitative", "axis": {"values": [0,1,2,3,4,5,6,7,8,9,10,11,12,13], "labelOverlap": false, "title": "Collected UCS, (MPa)", "titleFontSize": 15, "titlePadding": 10, "labelPadding": 0, "domain": false}},
            "y": {"field": "y", "type": "quantitative", "axis": {"values": [0,1,2,3,4,5,6,7,8,9,10,11,12,13], "labelOverlap": false, "title": "Predicted UCS, (MPa)", "titleFontSize": 15, "titlePadding": 14.1, "labelPadding": 2, "offset": -11.6, "domain": false}},
            "text": {"field": "t"}
          }
        },
        {
          "data": {"values": [{}]},
          "mark": {"type": "rect", "color": "#3c3c3c"},
          "encoding": {
            "x": {"datum": 9.25, "axis": {"values": [0,1,2,3,4,5,6,7,8,9,10,11,12,13], "labelOverlap": false, "title": "Collected UCS, (MPa)", "titleFontSize": 15, "titlePadding": 10, "labelPadding": 0, "domain": false}}, "x2": {"datum": 12.7},
            "y": {"datum": 1.69, "axis": {"values": [0,1,2,3,4,5,6,7,8,9,10,11,12,13], "labelOverlap": false, "title": "Predicted UCS, (MPa)", "titleFontSize": 15, "titlePadding": 14.1, "labelPadding": 2, "offset": -11.6, "domain": false}}, "y2": {"datum": 2.84}
          }
        },
        {
          "data": {"values": [{}]},
          "mark": {"type": "rect", "color": "#3c3c3c"},
          "encoding": {
            "x": {"datum": 9.25, "axis": {"values": [0,1,2,3,4,5,6,7,8,9,10,11,12,13], "labelOverlap": false, "title": "Collected UCS, (MPa)", "titleFontSize": 15, "titlePadding": 10, "labelPadding": 0, "domain": false}}, "x2": {"datum": 12.7},
            "y": {"datum": 0.37, "axis": {"values": [0,1,2,3,4,5,6,7,8,9,10,11,12,13], "labelOverlap": false, "title": "Predicted UCS, (MPa)", "titleFontSize": 15, "titlePadding": 14.1, "labelPadding": 2, "offset": -11.6, "domain": false}}, "y2": {"datum": 1.46}
          }
        },
        {
          "data": {"values": [{}]},
          "mark": {"type": "rect", "fill": "#ffffff", "stroke": "#000", "strokeWidth": 1},
          "encoding": {
            "x": {"datum": 9.11, "axis": {"values": [0,1,2,3,4,5,6,7,8,9,10,11,12,13], "labelOverlap": false, "title": "Collected UCS, (MPa)", "titleFontSize": 15, "titlePadding": 10, "labelPadding": 0, "domain": false}}, "x2": {"datum": 12.56},
            "y": {"datum": 1.85, "axis": {"values": [0,1,2,3,4,5,6,7,8,9,10,11,12,13], "labelOverlap": false, "title": "Predicted UCS, (MPa)", "titleFontSize": 15, "titlePadding": 14.1, "labelPadding": 2, "offset": -11.6, "domain": false}}, "y2": {"datum": 3.0}
          }
        },
        {
          "data": {"values": [{}]},
          "mark": {"type": "rect", "fill": "#ffffff", "stroke": "#000", "strokeWidth": 1},
          "encoding": {
            "x": {"datum": 9.11, "axis": {"values": [0,1,2,3,4,5,6,7,8,9,10,11,12,13], "labelOverlap": false, "title": "Collected UCS, (MPa)", "titleFontSize": 15, "titlePadding": 10, "labelPadding": 0, "domain": false}}, "x2": {"datum": 12.56},
            "y": {"datum": 0.53, "axis": {"values": [0,1,2,3,4,5,6,7,8,9,10,11,12,13], "labelOverlap": false, "title": "Predicted UCS, (MPa)", "titleFontSize": 15, "titlePadding": 14.1, "labelPadding": 2, "offset": -11.6, "domain": false}}, "y2": {"datum": 1.62}
          }
        },
        {
          "data": {"values": [{}]},
          "mark": {"type": "point", "shape": "circle", "filled": true, "size": 80, "opacity": 1, "stroke": "#000", "strokeWidth": 0.5, "fill": {"gradient": "radial", "x1": 0.35, "y1": 0.3, "r1": 0, "x2": 0.5, "y2": 0.5, "r2": 0.55, "stops": [{"offset": 0, "color": "#f0f0f0"}, {"offset": 0.35, "color": "#555555"}, {"offset": 1, "color": "#000000"}]}},
          "encoding": {
            "x": {"datum": 10.19, "axis": {"values": [0,1,2,3,4,5,6,7,8,9,10,11,12,13], "labelOverlap": false, "title": "Collected UCS, (MPa)", "titleFontSize": 15, "titlePadding": 10, "labelPadding": 0, "domain": false}},
            "y": {"datum": 2.43, "axis": {"values": [0,1,2,3,4,5,6,7,8,9,10,11,12,13], "labelOverlap": false, "title": "Predicted UCS, (MPa)", "titleFontSize": 15, "titlePadding": 14.1, "labelPadding": 2, "offset": -11.6, "domain": false}}
          }
        },
        {
          "data": {"values": [{}]},
          "mark": {"type": "point", "shape": "square", "filled": true, "size": 70, "opacity": 1, "fill": "#ff1414", "stroke": "#5a0000", "strokeWidth": 0.8},
          "encoding": {
            "x": {"datum": 10.19, "axis": {"values": [0,1,2,3,4,5,6,7,8,9,10,11,12,13], "labelOverlap": false, "title": "Collected UCS, (MPa)", "titleFontSize": 15, "titlePadding": 10, "labelPadding": 0, "domain": false}},
            "y": {"datum": 1.06, "axis": {"values": [0,1,2,3,4,5,6,7,8,9,10,11,12,13], "labelOverlap": false, "title": "Predicted UCS, (MPa)", "titleFontSize": 15, "titlePadding": 14.1, "labelPadding": 2, "offset": -11.6, "domain": false}}
          }
        },
        {
          "data": {"values": [{}]},
          "mark": {"type": "text", "text": "Train", "font": "Liberation Serif", "fontSize": 15, "fontWeight": "bold", "fontStyle": "italic", "align": "center", "baseline": "middle", "color": "#000"},
          "encoding": {
            "x": {"datum": 11.71, "axis": {"values": [0,1,2,3,4,5,6,7,8,9,10,11,12,13], "labelOverlap": false, "title": "Collected UCS, (MPa)", "titleFontSize": 15, "titlePadding": 10, "labelPadding": 0, "domain": false}},
            "y": {"datum": 2.43, "axis": {"values": [0,1,2,3,4,5,6,7,8,9,10,11,12,13], "labelOverlap": false, "title": "Predicted UCS, (MPa)", "titleFontSize": 15, "titlePadding": 14.1, "labelPadding": 2, "offset": -11.6, "domain": false}}
          }
        },
        {
          "data": {"values": [{}]},
          "mark": {"type": "text", "text": "Test", "font": "Liberation Serif", "fontSize": 15, "fontWeight": "bold", "fontStyle": "italic", "align": "center", "baseline": "middle", "color": "#000"},
          "encoding": {
            "x": {"datum": 11.71, "axis": {"values": [0,1,2,3,4,5,6,7,8,9,10,11,12,13], "labelOverlap": false, "title": "Collected UCS, (MPa)", "titleFontSize": 15, "titlePadding": 10, "labelPadding": 0, "domain": false}},
            "y": {"datum": 1.06, "axis": {"values": [0,1,2,3,4,5,6,7,8,9,10,11,12,13], "labelOverlap": false, "title": "Predicted UCS, (MPa)", "titleFontSize": 15, "titlePadding": 14.1, "labelPadding": 2, "offset": -11.6, "domain": false}}
          }
        }
      ]
    },
    {
      "width": 288.3, "height": 254.2,
      "title": {"text": "c. Train", "orient": "bottom", "anchor": "middle", "frame": "bounds", "offset": 9},
      "resolve": {"scale": {"y": "independent"}},
      "layer": [
        {
          "layer": [
            {
              "data": {"name": "curves"},
              "transform": [{"filter": "datum.panel === 'c' && datum.model === 'ETR'"}],
              "mark": {"type": "area", "color": "#e0e0e0", "interpolate": "monotone"},
              "encoding": {
                "x": {"field": "x", "type": "quantitative", "scale": {"domain": [-40, 120], "nice": false}, "axis": {"values": [-40,-30,-20,-10,0,10,20,30,40,50,60,70,80,90,100,110,120], "labelOverlap": false, "labelExpr": "datum.value % 20 === 0 ? datum.label : ''", "title": "Error, %", "titleFontSize": 18, "titlePadding": 4, "labelPadding": 1, "tickColor": "#444", "domain": false}},
                "y": {"field": "y", "type": "quantitative", "scale": {"domain": [0, 110], "range": [204.2, 0], "nice": false}, "axis": {"values": [0, 20, 40, 60, 80, 100], "labelOverlap": false, "title": "Nunber of cases", "titleFontSize": 18, "titlePadding": -4.8, "labelPadding": 2, "tickColor": "#444", "domain": false}}
              }
            },
            {
              "data": {"name": "curves"},
              "transform": [{"filter": "datum.panel === 'c' && datum.model === 'DT'"}],
              "mark": {"type": "area", "color": "#f3b3b3", "opacity": 0.55, "interpolate": "monotone"},
              "encoding": {
                "x": {"field": "x", "type": "quantitative", "axis": {"values": [-40,-30,-20,-10,0,10,20,30,40,50,60,70,80,90,100,110,120], "labelOverlap": false, "labelExpr": "datum.value % 20 === 0 ? datum.label : ''", "title": "Error, %", "titleFontSize": 18, "titlePadding": 4, "labelPadding": 1, "tickColor": "#444", "domain": false}},
                "y": {"field": "y", "type": "quantitative", "axis": {"values": [0, 20, 40, 60, 80, 100], "labelOverlap": false, "title": "Nunber of cases", "titleFontSize": 18, "titlePadding": -4.8, "labelPadding": 2, "tickColor": "#444", "domain": false}}
              }
            },
            {
              "data": {"name": "curves"},
              "transform": [{"filter": "datum.panel === 'c' && datum.model === 'ETR'"}],
              "mark": {"type": "line", "color": "#505050", "strokeWidth": 1.2, "interpolate": "monotone"},
              "encoding": {
                "x": {"field": "x", "type": "quantitative", "axis": {"values": [-40,-30,-20,-10,0,10,20,30,40,50,60,70,80,90,100,110,120], "labelOverlap": false, "labelExpr": "datum.value % 20 === 0 ? datum.label : ''", "title": "Error, %", "titleFontSize": 18, "titlePadding": 4, "labelPadding": 1, "tickColor": "#444", "domain": false}},
                "y": {"field": "y", "type": "quantitative", "axis": {"values": [0, 20, 40, 60, 80, 100], "labelOverlap": false, "title": "Nunber of cases", "titleFontSize": 18, "titlePadding": -4.8, "labelPadding": 2, "tickColor": "#444", "domain": false}}
              }
            },
            {
              "data": {"name": "curves"},
              "transform": [{"filter": "datum.panel === 'c' && datum.model === 'DT'"}],
              "mark": {"type": "line", "color": "#e5393c", "strokeWidth": 1.2, "interpolate": "monotone"},
              "encoding": {
                "x": {"field": "x", "type": "quantitative", "axis": {"values": [-40,-30,-20,-10,0,10,20,30,40,50,60,70,80,90,100,110,120], "labelOverlap": false, "labelExpr": "datum.value % 20 === 0 ? datum.label : ''", "title": "Error, %", "titleFontSize": 18, "titlePadding": 4, "labelPadding": 1, "tickColor": "#444", "domain": false}},
                "y": {"field": "y", "type": "quantitative", "axis": {"values": [0, 20, 40, 60, 80, 100], "labelOverlap": false, "title": "Nunber of cases", "titleFontSize": 18, "titlePadding": -4.8, "labelPadding": 2, "tickColor": "#444", "domain": false}}
              }
            },
            {
              "data": {"values": [{}]},
              "mark": {"type": "rect", "fill": "#ffffff", "stroke": "#a0a0a0", "strokeWidth": 0.8},
              "encoding": {
                "x": {"datum": 73.3, "axis": {"values": [-40,-30,-20,-10,0,10,20,30,40,50,60,70,80,90,100,110,120], "labelOverlap": false, "labelExpr": "datum.value % 20 === 0 ? datum.label : ''", "title": "Error, %", "titleFontSize": 18, "titlePadding": 4, "labelPadding": 1, "tickColor": "#444", "domain": false}}, "x2": {"datum": 115},
                "y": {"datum": 84.6, "axis": {"values": [0, 20, 40, 60, 80, 100], "labelOverlap": false, "title": "Nunber of cases", "titleFontSize": 18, "titlePadding": -4.8, "labelPadding": 2, "tickColor": "#444", "domain": false}}, "y2": {"datum": 106.1}
              }
            },
            {
              "data": {"values": [{}]},
              "mark": {"type": "rect", "fill": "#dcdcdc", "stroke": "#8c8c8c", "strokeWidth": 1},
              "encoding": {
                "x": {"datum": 74.3, "axis": {"values": [-40,-30,-20,-10,0,10,20,30,40,50,60,70,80,90,100,110,120], "labelOverlap": false, "labelExpr": "datum.value % 20 === 0 ? datum.label : ''", "title": "Error, %", "titleFontSize": 18, "titlePadding": 4, "labelPadding": 1, "tickColor": "#444", "domain": false}}, "x2": {"datum": 89.8},
                "y": {"datum": 97.3, "axis": {"values": [0, 20, 40, 60, 80, 100], "labelOverlap": false, "title": "Nunber of cases", "titleFontSize": 18, "titlePadding": -4.8, "labelPadding": 2, "tickColor": "#444", "domain": false}}, "y2": {"datum": 104.8}
              }
            },
            {
              "data": {"values": [{}]},
              "mark": {"type": "rect", "fill": "#fcdcdc", "stroke": "#f08c8c", "strokeWidth": 1},
              "encoding": {
                "x": {"datum": 74.3, "axis": {"values": [-40,-30,-20,-10,0,10,20,30,40,50,60,70,80,90,100,110,120], "labelOverlap": false, "labelExpr": "datum.value % 20 === 0 ? datum.label : ''", "title": "Error, %", "titleFontSize": 18, "titlePadding": 4, "labelPadding": 1, "tickColor": "#444", "domain": false}}, "x2": {"datum": 89.8},
                "y": {"datum": 87.3, "axis": {"values": [0, 20, 40, 60, 80, 100], "labelOverlap": false, "title": "Nunber of cases", "titleFontSize": 18, "titlePadding": -4.8, "labelPadding": 2, "tickColor": "#444", "domain": false}}, "y2": {"datum": 95.0}
              }
            },
            {
              "data": {"name": "keys"},
              "transform": [{"filter": "datum.panel === 'c' && datum.part === 'main'"}],
              "mark": {"type": "text", "font": "Liberation Serif", "fontSize": 11.5, "fontWeight": "bold", "fontStyle": "italic", "align": "left", "baseline": "alphabetic", "color": "#000"},
              "encoding": {
                "x": {"field": "x", "type": "quantitative", "axis": {"values": [-40,-30,-20,-10,0,10,20,30,40,50,60,70,80,90,100,110,120], "labelOverlap": false, "labelExpr": "datum.value % 20 === 0 ? datum.label : ''", "title": "Error, %", "titleFontSize": 18, "titlePadding": 4, "labelPadding": 1, "tickColor": "#444", "domain": false}},
                "y": {"field": "y", "type": "quantitative", "axis": {"values": [0, 20, 40, 60, 80, 100], "labelOverlap": false, "title": "Nunber of cases", "titleFontSize": 18, "titlePadding": -4.8, "labelPadding": 2, "tickColor": "#444", "domain": false}},
                "text": {"field": "t"}
              }
            },
            {
              "data": {"name": "keys"},
              "transform": [{"filter": "datum.panel === 'c' && datum.part === 'sub'"}],
              "mark": {"type": "text", "font": "Liberation Serif", "fontSize": 8, "fontWeight": "bold", "fontStyle": "italic", "align": "left", "baseline": "alphabetic", "color": "#000"},
              "encoding": {
                "x": {"field": "x", "type": "quantitative", "axis": {"values": [-40,-30,-20,-10,0,10,20,30,40,50,60,70,80,90,100,110,120], "labelOverlap": false, "labelExpr": "datum.value % 20 === 0 ? datum.label : ''", "title": "Error, %", "titleFontSize": 18, "titlePadding": 4, "labelPadding": 1, "tickColor": "#444", "domain": false}},
                "y": {"field": "y", "type": "quantitative", "axis": {"values": [0, 20, 40, 60, 80, 100], "labelOverlap": false, "title": "Nunber of cases", "titleFontSize": 18, "titlePadding": -4.8, "labelPadding": 2, "tickColor": "#444", "domain": false}},
                "text": {"field": "t"}
              }
            },
            {
              "data": {"values": [{}]},
              "mark": {"type": "rect", "filled": false, "stroke": "#7a7a7a", "strokeWidth": 1},
              "encoding": {
                "x": {"datum": -40, "axis": {"values": [-40,-30,-20,-10,0,10,20,30,40,50,60,70,80,90,100,110,120], "labelOverlap": false, "labelExpr": "datum.value % 20 === 0 ? datum.label : ''", "title": "Error, %", "titleFontSize": 18, "titlePadding": 4, "labelPadding": 1, "tickColor": "#444", "domain": false}}, "x2": {"datum": 120},
                "y": {"datum": 0, "axis": {"values": [0, 20, 40, 60, 80, 100], "labelOverlap": false, "title": "Nunber of cases", "titleFontSize": 18, "titlePadding": -4.8, "labelPadding": 2, "tickColor": "#444", "domain": false}}, "y2": {"datum": 110}
              }
            }
          ]
        },
        {
          "layer": [
            {
              "data": {"name": "rug"},
              "transform": [{"filter": "datum.panel === 'c' && datum.model === 'ETR'"}],
              "mark": {"type": "rule", "color": "#2a2a2a", "opacity": 0.5, "strokeWidth": 1},
              "encoding": {
                "x": {"field": "err", "type": "quantitative", "axis": {"values": [-40,-30,-20,-10,0,10,20,30,40,50,60,70,80,90,100,110,120], "labelOverlap": false, "labelExpr": "datum.value % 20 === 0 ? datum.label : ''", "title": "Error, %", "titleFontSize": 18, "titlePadding": 4, "labelPadding": 1, "tickColor": "#444", "domain": false}},
                "y": {"datum": 0.6, "type": "quantitative", "scale": {"domain": [0, 1], "range": [254.2, 204.2], "nice": false}, "axis": null},
                "y2": {"datum": 0.934}
              }
            },
            {
              "data": {"name": "rug"},
              "transform": [{"filter": "datum.panel === 'c' && datum.model === 'DT'"}],
              "mark": {"type": "rule", "color": "#e23636", "opacity": 0.5, "strokeWidth": 1},
              "encoding": {
                "x": {"field": "err", "type": "quantitative", "axis": {"values": [-40,-30,-20,-10,0,10,20,30,40,50,60,70,80,90,100,110,120], "labelOverlap": false, "labelExpr": "datum.value % 20 === 0 ? datum.label : ''", "title": "Error, %", "titleFontSize": 18, "titlePadding": 4, "labelPadding": 1, "tickColor": "#444", "domain": false}},
                "y": {"datum": 0.134, "type": "quantitative", "scale": {"domain": [0, 1], "range": [254.2, 204.2], "nice": false}, "axis": null},
                "y2": {"datum": 0.48}
              }
            },
            {
              "data": {"values": [{}]},
              "mark": {"type": "rect", "filled": false, "stroke": "#7a7a7a", "strokeWidth": 1},
              "encoding": {
                "x": {"datum": -40, "axis": {"values": [-40,-30,-20,-10,0,10,20,30,40,50,60,70,80,90,100,110,120], "labelOverlap": false, "labelExpr": "datum.value % 20 === 0 ? datum.label : ''", "title": "Error, %", "titleFontSize": 18, "titlePadding": 4, "labelPadding": 1, "tickColor": "#444", "domain": false}}, "x2": {"datum": 120},
                "y": {"datum": 0, "type": "quantitative", "scale": {"domain": [0, 1], "range": [254.2, 204.2], "nice": false}, "axis": null},
                "y2": {"datum": 1}
              }
            }
          ]
        }
      ]
    },
    {
      "width": 287.6, "height": 254.2,
      "title": {"text": "d. Test", "orient": "bottom", "anchor": "middle", "frame": "bounds", "offset": 9},
      "resolve": {"scale": {"y": "independent"}},
      "layer": [
        {
          "layer": [
            {
              "data": {"name": "curves"},
              "transform": [{"filter": "datum.panel === 'd' && datum.model === 'ETR'"}],
              "mark": {"type": "area", "color": "#e0e0e0", "interpolate": "monotone"},
              "encoding": {
                "x": {"field": "x", "type": "quantitative", "scale": {"domain": [-40, 40], "nice": false}, "axis": {"values": [-40,-35,-30,-25,-20,-15,-10,-5,0,5,10,15,20,25,30,35,40], "labelOverlap": false, "labelExpr": "datum.value % 10 === 0 ? datum.label : ''", "title": "Error, %", "titleFontSize": 18, "titlePadding": 4, "labelPadding": 1, "tickColor": "#444", "domain": false}},
                "y": {"field": "y", "type": "quantitative", "scale": {"domain": [0, 17], "range": [204.2, 7.5], "nice": false}, "axis": {"values": [0, 2, 4, 6, 8, 10, 12, 14, 16], "labelOverlap": false, "title": "Nunber of cases", "titleFontSize": 18, "titlePadding": 1.7, "labelPadding": 2, "tickColor": "#444", "domain": false}}
              }
            },
            {
              "data": {"name": "curves"},
              "transform": [{"filter": "datum.panel === 'd' && datum.model === 'DT'"}],
              "mark": {"type": "area", "color": "#f3b3b3", "opacity": 0.55, "interpolate": "monotone"},
              "encoding": {
                "x": {"field": "x", "type": "quantitative", "axis": {"values": [-40,-35,-30,-25,-20,-15,-10,-5,0,5,10,15,20,25,30,35,40], "labelOverlap": false, "labelExpr": "datum.value % 10 === 0 ? datum.label : ''", "title": "Error, %", "titleFontSize": 18, "titlePadding": 4, "labelPadding": 1, "tickColor": "#444", "domain": false}},
                "y": {"field": "y", "type": "quantitative", "axis": {"values": [0, 2, 4, 6, 8, 10, 12, 14, 16], "labelOverlap": false, "title": "Nunber of cases", "titleFontSize": 18, "titlePadding": 1.7, "labelPadding": 2, "tickColor": "#444", "domain": false}}
              }
            },
            {
              "data": {"name": "curves"},
              "transform": [{"filter": "datum.panel === 'd' && datum.model === 'ETR'"}],
              "mark": {"type": "line", "color": "#505050", "strokeWidth": 1.2, "interpolate": "monotone"},
              "encoding": {
                "x": {"field": "x", "type": "quantitative", "axis": {"values": [-40,-35,-30,-25,-20,-15,-10,-5,0,5,10,15,20,25,30,35,40], "labelOverlap": false, "labelExpr": "datum.value % 10 === 0 ? datum.label : ''", "title": "Error, %", "titleFontSize": 18, "titlePadding": 4, "labelPadding": 1, "tickColor": "#444", "domain": false}},
                "y": {"field": "y", "type": "quantitative", "axis": {"values": [0, 2, 4, 6, 8, 10, 12, 14, 16], "labelOverlap": false, "title": "Nunber of cases", "titleFontSize": 18, "titlePadding": 1.7, "labelPadding": 2, "tickColor": "#444", "domain": false}}
              }
            },
            {
              "data": {"name": "curves"},
              "transform": [{"filter": "datum.panel === 'd' && datum.model === 'DT'"}],
              "mark": {"type": "line", "color": "#e5393c", "strokeWidth": 1.2, "interpolate": "monotone"},
              "encoding": {
                "x": {"field": "x", "type": "quantitative", "axis": {"values": [-40,-35,-30,-25,-20,-15,-10,-5,0,5,10,15,20,25,30,35,40], "labelOverlap": false, "labelExpr": "datum.value % 10 === 0 ? datum.label : ''", "title": "Error, %", "titleFontSize": 18, "titlePadding": 4, "labelPadding": 1, "tickColor": "#444", "domain": false}},
                "y": {"field": "y", "type": "quantitative", "axis": {"values": [0, 2, 4, 6, 8, 10, 12, 14, 16], "labelOverlap": false, "title": "Nunber of cases", "titleFontSize": 18, "titlePadding": 1.7, "labelPadding": 2, "tickColor": "#444", "domain": false}}
              }
            },
            {
              "data": {"values": [{}]},
              "mark": {"type": "rect", "fill": "#ffffff", "stroke": "#a0a0a0", "strokeWidth": 0.8},
              "encoding": {
                "x": {"datum": 15.2, "axis": {"values": [-40,-35,-30,-25,-20,-15,-10,-5,0,5,10,15,20,25,30,35,40], "labelOverlap": false, "labelExpr": "datum.value % 10 === 0 ? datum.label : ''", "title": "Error, %", "titleFontSize": 18, "titlePadding": 4, "labelPadding": 1, "tickColor": "#444", "domain": false}}, "x2": {"datum": 36.3},
                "y": {"datum": 13.6, "axis": {"values": [0, 2, 4, 6, 8, 10, 12, 14, 16], "labelOverlap": false, "title": "Nunber of cases", "titleFontSize": 18, "titlePadding": 1.7, "labelPadding": 2, "tickColor": "#444", "domain": false}}, "y2": {"datum": 17}
              }
            },
            {
              "data": {"values": [{}]},
              "mark": {"type": "rect", "fill": "#dcdcdc", "stroke": "#8c8c8c", "strokeWidth": 1},
              "encoding": {
                "x": {"datum": 15.9, "axis": {"values": [-40,-35,-30,-25,-20,-15,-10,-5,0,5,10,15,20,25,30,35,40], "labelOverlap": false, "labelExpr": "datum.value % 10 === 0 ? datum.label : ''", "title": "Error, %", "titleFontSize": 18, "titlePadding": 4, "labelPadding": 1, "tickColor": "#444", "domain": false}}, "x2": {"datum": 23.8},
                "y": {"datum": 15.62, "axis": {"values": [0, 2, 4, 6, 8, 10, 12, 14, 16], "labelOverlap": false, "title": "Nunber of cases", "titleFontSize": 18, "titlePadding": 1.7, "labelPadding": 2, "tickColor": "#444", "domain": false}}, "y2": {"datum": 16.77}
              }
            },
            {
              "data": {"values": [{}]},
              "mark": {"type": "rect", "fill": "#fcdcdc", "stroke": "#f08c8c", "strokeWidth": 1},
              "encoding": {
                "x": {"datum": 15.9, "axis": {"values": [-40,-35,-30,-25,-20,-15,-10,-5,0,5,10,15,20,25,30,35,40], "labelOverlap": false, "labelExpr": "datum.value % 10 === 0 ? datum.label : ''", "title": "Error, %", "titleFontSize": 18, "titlePadding": 4, "labelPadding": 1, "tickColor": "#444", "domain": false}}, "x2": {"datum": 23.8},
                "y": {"datum": 13.97, "axis": {"values": [0, 2, 4, 6, 8, 10, 12, 14, 16], "labelOverlap": false, "title": "Nunber of cases", "titleFontSize": 18, "titlePadding": 1.7, "labelPadding": 2, "tickColor": "#444", "domain": false}}, "y2": {"datum": 15.2}
              }
            },
            {
              "data": {"name": "keys"},
              "transform": [{"filter": "datum.panel === 'd' && datum.part === 'main'"}],
              "mark": {"type": "text", "font": "Liberation Serif", "fontSize": 11.5, "fontWeight": "bold", "fontStyle": "italic", "align": "left", "baseline": "alphabetic", "color": "#000"},
              "encoding": {
                "x": {"field": "x", "type": "quantitative", "axis": {"values": [-40,-35,-30,-25,-20,-15,-10,-5,0,5,10,15,20,25,30,35,40], "labelOverlap": false, "labelExpr": "datum.value % 10 === 0 ? datum.label : ''", "title": "Error, %", "titleFontSize": 18, "titlePadding": 4, "labelPadding": 1, "tickColor": "#444", "domain": false}},
                "y": {"field": "y", "type": "quantitative", "axis": {"values": [0, 2, 4, 6, 8, 10, 12, 14, 16], "labelOverlap": false, "title": "Nunber of cases", "titleFontSize": 18, "titlePadding": 1.7, "labelPadding": 2, "tickColor": "#444", "domain": false}},
                "text": {"field": "t"}
              }
            },
            {
              "data": {"name": "keys"},
              "transform": [{"filter": "datum.panel === 'd' && datum.part === 'sub'"}],
              "mark": {"type": "text", "font": "Liberation Serif", "fontSize": 8, "fontWeight": "bold", "fontStyle": "italic", "align": "left", "baseline": "alphabetic", "color": "#000"},
              "encoding": {
                "x": {"field": "x", "type": "quantitative", "axis": {"values": [-40,-35,-30,-25,-20,-15,-10,-5,0,5,10,15,20,25,30,35,40], "labelOverlap": false, "labelExpr": "datum.value % 10 === 0 ? datum.label : ''", "title": "Error, %", "titleFontSize": 18, "titlePadding": 4, "labelPadding": 1, "tickColor": "#444", "domain": false}},
                "y": {"field": "y", "type": "quantitative", "axis": {"values": [0, 2, 4, 6, 8, 10, 12, 14, 16], "labelOverlap": false, "title": "Nunber of cases", "titleFontSize": 18, "titlePadding": 1.7, "labelPadding": 2, "tickColor": "#444", "domain": false}},
                "text": {"field": "t"}
              }
            },
            {
              "data": {"values": [{}]},
              "mark": {"type": "rect", "filled": false, "stroke": "#7a7a7a", "strokeWidth": 1},
              "encoding": {
                "x": {"datum": -40, "axis": {"values": [-40,-35,-30,-25,-20,-15,-10,-5,0,5,10,15,20,25,30,35,40], "labelOverlap": false, "labelExpr": "datum.value % 10 === 0 ? datum.label : ''", "title": "Error, %", "titleFontSize": 18, "titlePadding": 4, "labelPadding": 1, "tickColor": "#444", "domain": false}}, "x2": {"datum": 40},
                "y": {"datum": 0, "axis": {"values": [0, 2, 4, 6, 8, 10, 12, 14, 16], "labelOverlap": false, "title": "Nunber of cases", "titleFontSize": 18, "titlePadding": 1.7, "labelPadding": 2, "tickColor": "#444", "domain": false}}, "y2": {"datum": 17}
              }
            }
          ]
        },
        {
          "layer": [
            {
              "data": {"name": "rug"},
              "transform": [{"filter": "datum.panel === 'd' && datum.model === 'ETR'"}],
              "mark": {"type": "rule", "color": "#2a2a2a", "opacity": 0.5, "strokeWidth": 1},
              "encoding": {
                "x": {"field": "err", "type": "quantitative", "axis": {"values": [-40,-35,-30,-25,-20,-15,-10,-5,0,5,10,15,20,25,30,35,40], "labelOverlap": false, "labelExpr": "datum.value % 10 === 0 ? datum.label : ''", "title": "Error, %", "titleFontSize": 18, "titlePadding": 4, "labelPadding": 1, "tickColor": "#444", "domain": false}},
                "y": {"datum": 0.6, "type": "quantitative", "scale": {"domain": [0, 1], "range": [254.2, 204.2], "nice": false}, "axis": null},
                "y2": {"datum": 0.934}
              }
            },
            {
              "data": {"name": "rug"},
              "transform": [{"filter": "datum.panel === 'd' && datum.model === 'DT'"}],
              "mark": {"type": "rule", "color": "#e23636", "opacity": 0.5, "strokeWidth": 1},
              "encoding": {
                "x": {"field": "err", "type": "quantitative", "axis": {"values": [-40,-35,-30,-25,-20,-15,-10,-5,0,5,10,15,20,25,30,35,40], "labelOverlap": false, "labelExpr": "datum.value % 10 === 0 ? datum.label : ''", "title": "Error, %", "titleFontSize": 18, "titlePadding": 4, "labelPadding": 1, "tickColor": "#444", "domain": false}},
                "y": {"datum": 0.134, "type": "quantitative", "scale": {"domain": [0, 1], "range": [254.2, 204.2], "nice": false}, "axis": null},
                "y2": {"datum": 0.48}
              }
            },
            {
              "data": {"values": [{}]},
              "mark": {"type": "rect", "filled": false, "stroke": "#7a7a7a", "strokeWidth": 1},
              "encoding": {
                "x": {"datum": -40, "axis": {"values": [-40,-35,-30,-25,-20,-15,-10,-5,0,5,10,15,20,25,30,35,40], "labelOverlap": false, "labelExpr": "datum.value % 10 === 0 ? datum.label : ''", "title": "Error, %", "titleFontSize": 18, "titlePadding": 4, "labelPadding": 1, "tickColor": "#444", "domain": false}}, "x2": {"datum": 40},
                "y": {"datum": 0, "type": "quantitative", "scale": {"domain": [0, 1], "range": [254.2, 204.2], "nice": false}, "axis": null},
                "y2": {"datum": 1}
              }
            }
          ]
        }
      ]
    }
  ]
}
